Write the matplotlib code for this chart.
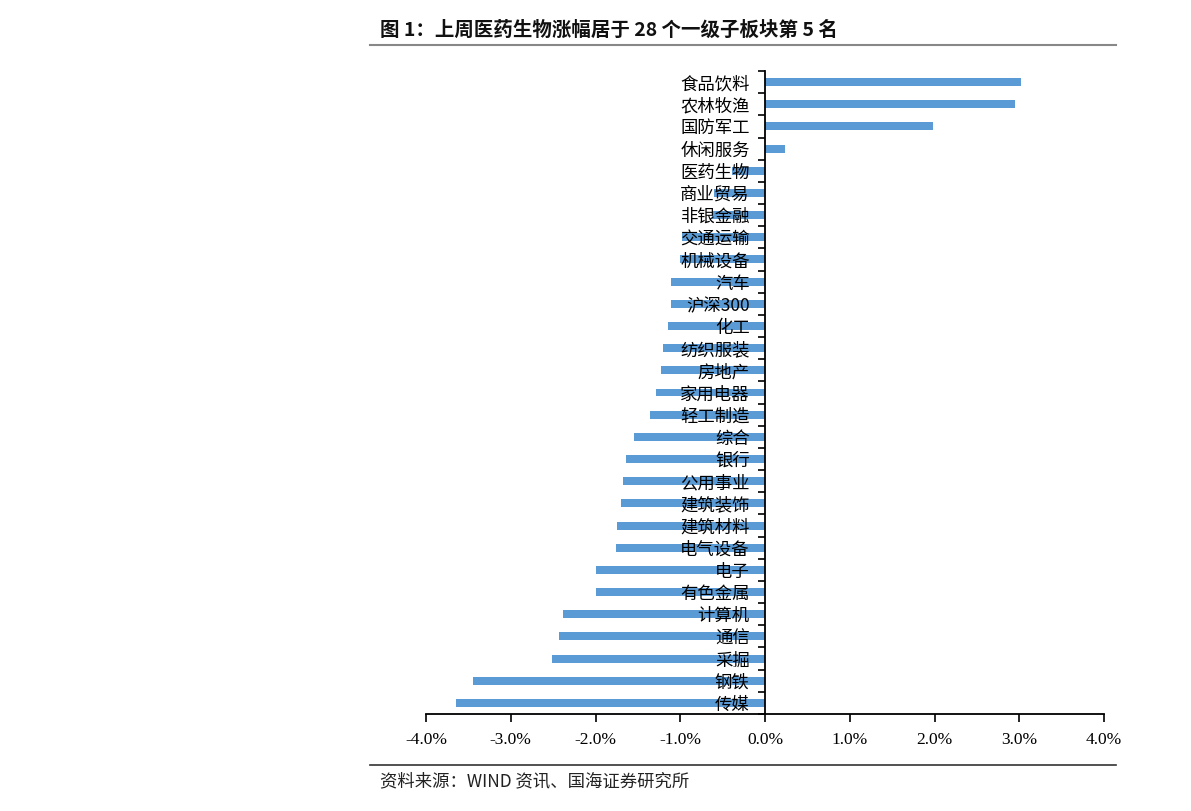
import matplotlib
matplotlib.use("Agg")
import matplotlib.pyplot as plt
from matplotlib.ticker import FuncFormatter, FixedLocator
from matplotlib.lines import Line2D

plt.rcParams['font.family'] = ['Noto Sans CJK SC', 'DejaVu Sans']

categories = ["食品饮料", "农林牧渔", "国防军工", "休闲服务", "医药生物", "商业贸易",
              "非银金融", "交通运输", "机械设备", "汽车", "沪深300", "化工",
              "纺织服装", "房地产", "家用电器", "轻工制造", "综合", "银行",
              "公用事业", "建筑装饰", "建筑材料", "电气设备", "电子", "有色金属",
              "计算机", "通信", "采掘", "钢铁", "传媒"]
values = [3.02, 2.95, 1.98, 0.24, -0.39, -0.60,
          -0.62, -0.98, -1.00, -1.11, -1.11, -1.15,
          -1.20, -1.23, -1.29, -1.36, -1.55, -1.64,
          -1.68, -1.70, -1.75, -1.76, -1.99, -1.99,
          -2.38, -2.43, -2.51, -3.44, -3.65]
xticks = [-4, -3, -2, -1, 0, 1, 2, 3, 4]

title = "图 1：上周医药生物涨幅居于 28 个一级子板块第 5 名"
source = "资料来源：WIND 资讯、国海证券研究所"

W, H = 1191, 811
fig = plt.figure(figsize=(W / 100, H / 100), dpi=100)
ax = fig.add_axes([426 / W, 1 - 714 / H, (1104 - 426) / W, (714 - 71) / H])

pos = list(range(len(categories)))
ax.barh(pos, values, height=0.36, color="#5B9BD5", zorder=1)
ax.set_axisbelow(False)

ax.set_xlim(-4, 4)
ax.set_ylim(len(categories) - 0.5, -0.5)

ax.spines['top'].set_visible(False)
ax.spines['right'].set_visible(False)
ax.spines['left'].set_position(('data', 0))
ax.spines['left'].set_linewidth(1.3)
ax.spines['bottom'].set_linewidth(1.3)

ax.set_xticks(xticks)
ax.xaxis.set_major_formatter(FuncFormatter(lambda v, p: f"{v:.1f}%"))
ax.tick_params(axis='x', direction='out', length=6, width=1.2, pad=7,
               labelsize=12.5)
for lab in ax.get_xticklabels():
    lab.set_fontfamily(['Liberation Serif', 'DejaVu Serif'])

ax.set_yticks(pos)
ax.set_yticklabels(categories)
ax.tick_params(axis='y', which='major', length=0, pad=11, labelsize=12.5)
ax.yaxis.set_minor_locator(FixedLocator([i - 0.5 for i in range(len(categories) + 1)]))
ax.tick_params(axis='y', which='minor', direction='out', length=5, width=1.2)

fig.text(380 / W, 1 - 30 / H, title, fontsize=14, fontweight='bold',
         va='center', ha='left', color='#111111')
fig.add_artist(Line2D([370 / W, 1116 / W], [1 - 45 / H, 1 - 45 / H],
                      color='#888888', linewidth=1.5))
fig.add_artist(Line2D([370 / W, 1116 / W], [1 - 765 / H, 1 - 765 / H],
                      color='#333333', linewidth=1.2))
fig.text(380 / W, 1 - 781 / H, source, fontsize=12.5, va='center', ha='left',
         color='#222222')

fig.savefig("out.png", dpi=100)
